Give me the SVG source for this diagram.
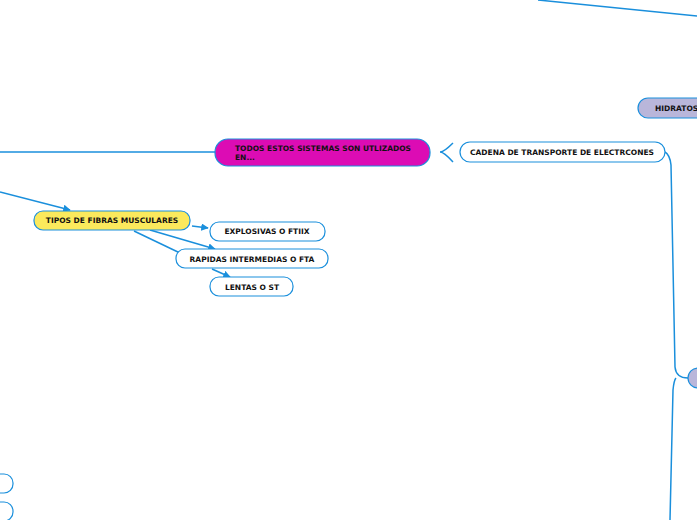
<svg xmlns="http://www.w3.org/2000/svg" width="697" height="520" viewBox="0 0 697 520">
<defs>
<style>
.c{fill:none;stroke:#1a8fdc;stroke-width:1.5}
.w{fill:#fff;stroke:#1a8fdc;stroke-width:1.2}
.t{font-family:Verdana,"DejaVu Sans",sans-serif;font-size:7.5px;font-weight:bold;fill:#111}
</style>
<marker id="a" viewBox="0 0 10 10" refX="9" refY="5" markerWidth="5" markerHeight="5" orient="auto"><path d="M0,0L10,5L0,10z" fill="#1a8fdc"/></marker>
</defs>
<rect width="697" height="520" fill="#fff"/>
<g id="connectors">
<path class="c" d="M538,0L697,16"/>
<path class="c" d="M0,152H215"/>
<path class="c" d="M453,143Q444,152 440,152Q444,152 453,162"/>
<path class="c" d="M665,152Q670,155 671,165L675,367Q676,378 688,378"/>
<path class="c" d="M676,378Q674,380 673,390L670,520"/>
<path class="c" d="M0,192L70,210" marker-end="url(#a)"/>
<path class="c" d="M192,226L208,228" marker-end="url(#a)"/>
<path class="c" d="M150,230L215,249" marker-end="url(#a)"/>
<path class="c" d="M134,231L180,253"/>
<path class="c" d="M212,269L230,277" marker-end="url(#a)"/>
</g>
<g id="n-todos"><rect x="215" y="139" width="215" height="27" rx="13" fill="#dc0cb4" stroke="#1a8fdc" stroke-width="1.2"/><text class="t" x="235" y="151">TODOS ESTOS SISTEMAS SON UTLIZADOS</text><text class="t" x="235" y="160">EN...</text></g>
<g id="n-cadena"><rect class="w" x="460" y="142" width="205" height="20" rx="10"/><text class="t" x="562" y="155" text-anchor="middle">CADENA DE TRANSPORTE DE ELECTRCONES</text></g>
<g id="n-hidratos"><rect x="638" y="98" width="70" height="20" rx="10" fill="#b9b6da" stroke="#1a8fdc" stroke-width="1.2"/><text class="t" x="655" y="111">HIDRATOS</text></g>
<g id="n-circle"><rect x="688" y="368" width="20" height="20" rx="10" fill="#b9b6da" stroke="#1a8fdc" stroke-width="1.2"/></g>
<g id="n-tipos"><rect x="34" y="211" width="156" height="19" rx="9" fill="#fbe95c" stroke="#1a8fdc" stroke-width="1.2"/><text class="t" x="112" y="223" text-anchor="middle">TIPOS DE FIBRAS MUSCULARES</text></g>
<g id="n-explosivas"><rect class="w" x="210" y="222" width="115" height="19" rx="9"/><text class="t" x="267" y="234" text-anchor="middle">EXPLOSIVAS O FTIIX</text></g>
<g id="n-rapidas"><rect class="w" x="176" y="249" width="152" height="19" rx="9"/><text class="t" x="252" y="262" text-anchor="middle">RAPIDAS INTERMEDIAS O FTA</text></g>
<g id="n-lentas"><rect class="w" x="210" y="277" width="83" height="19" rx="9"/><text class="t" x="252" y="290" text-anchor="middle">LENTAS O ST</text></g>
<g id="n-l1"><rect class="w" x="-20" y="474" width="33" height="19" rx="9"/></g>
<g id="n-l2"><rect class="w" x="-20" y="502" width="33" height="19" rx="9"/></g>
</svg>
